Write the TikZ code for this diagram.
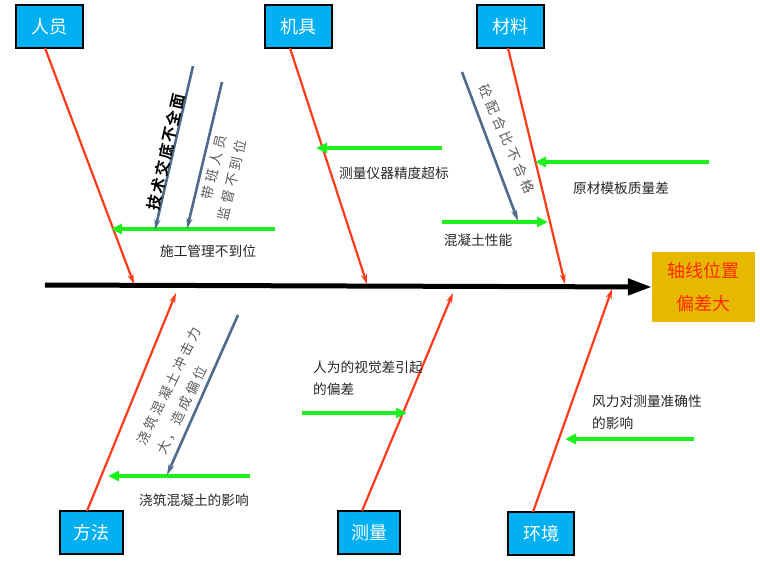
\documentclass[tikz,border=0pt]{standalone}
\usepackage{fontspec}
\newfontfamily\cjk{Noto Sans CJK SC}[BoldFont={Noto Sans CJK SC Bold}]
\usetikzlibrary{arrows.meta}
\definecolor{cyanbox}{HTML}{00B0F0}
\definecolor{bonered}{HTML}{FF3B1A}
\definecolor{causegreen}{HTML}{1EF01E}
\definecolor{subgray}{HTML}{4F6A8A}
\definecolor{goldbox}{HTML}{E6B800}
\definecolor{txtgray}{HTML}{5A5A5A}
\definecolor{efftxt}{HTML}{FF2A00}
\begin{document}
\begin{tikzpicture}[x=1pt,y=-1pt,
 catbox/.style={draw=black,line width=1.6pt,fill=cyanbox,minimum width=67pt,minimum height=43pt,inner sep=0pt,font=\cjk\fontsize{18}{20}\selectfont,text=white},
 bone/.style={draw=bonered,line width=2.2pt,-{Stealth[length=10pt,width=6pt]}},
 cause/.style={draw=causegreen,line width=4pt,-{Triangle[length=11pt,width=10pt]}},
 sub/.style={draw=subgray,line width=2.6pt,-{Stealth[length=11pt,width=6pt]}},
 lbl/.style={font=\cjk\fontsize{13.7}{22}\selectfont,text=black!85,inner sep=0pt,align=left},
 rlbl/.style={text=txtgray,inner sep=0pt},
]
\useasboundingbox (0,0) rectangle (760,570);
% category boxes
\node[catbox] (ry) at (49.5,26.5) {人员};
\node[catbox] (jj) at (298.5,26.5) {机具};
\node[catbox] (cl) at (510.5,26.5) {材料};
\node[catbox,minimum width=63pt] (ff) at (91.5,532.5) {方法};
\node[catbox,minimum width=62pt] (cm) at (369,532.5) {测量};
\node[catbox,minimum width=66pt] (hj) at (541,533.5) {环境};
% effect
\node[fill=goldbox,minimum width=103pt,minimum height=70pt,inner sep=0pt,align=center,
      font=\cjk\fontsize{18}{33}\selectfont,text=efftxt] (eff) at (703.5,287) {轴线位置\\偏差大};
% spine
\coordinate (sp0) at (45,285);
\draw[line width=5pt,-{Triangle[length=24pt,width=16pt]}] (sp0) -- (eff.west);
% bone coordinates
\coordinate (ryS) at (45,48);   \coordinate (ryE) at (134,284);
\coordinate (jjS) at (290,48);  \coordinate (jjE) at (367,284);
\coordinate (clS) at (508,48);  \coordinate (clE) at (565,284);
\coordinate (ffS) at (87,511);  \coordinate (ffE) at (176,293);
\coordinate (cmS) at (362,511); \coordinate (cmE) at (453,293);
\coordinate (hjS) at (533,512); \coordinate (hjE) at (612,289);
\draw[bone] (ryS) -- (ryE);
\draw[bone] (jjS) -- (jjE);
\draw[bone] (clS) -- (clE);
\draw[bone] (ffS) -- (ffE);
\draw[bone] (cmS) -- (cmE);
\draw[bone] (hjS) -- (hjE);
% green cause arrows
\coordinate (g1a) at (275,229); \coordinate (g1b) at (111,229);
\coordinate (g2a) at (442,148); \coordinate (g2b) at (316,148);
\coordinate (g3a) at (709,162); \coordinate (g3b) at (535,162);
\coordinate (g4a) at (442,222); \coordinate (g4b) at (548,222);
\coordinate (g5a) at (250,476); \coordinate (g5b) at (108,476);
\coordinate (g6a) at (302,413); \coordinate (g6b) at (407,413);
\coordinate (g7a) at (694,439); \coordinate (g7b) at (565,439);
\draw[cause] (g1a) -- (g1b);
\draw[cause] (g2a) -- (g2b);
\draw[cause] (g3a) -- (g3b);
\draw[cause] (g4a) -- (g4b);
\draw[cause] (g5a) -- (g5b);
\draw[cause] (g6a) -- (g6b);
\draw[cause] (g7a) -- (g7b);
% gray sub-cause arrows
\coordinate (s1a) at (193,66);  \coordinate (s1b) at (155,230);
\coordinate (s2a) at (222,82);  \coordinate (s2b) at (187,229);
\coordinate (s3a) at (462,72);  \coordinate (s3b) at (518,221);
\coordinate (s4a) at (238,315); \coordinate (s4b) at (167,475);
\draw[sub] (s1a) -- (s1b);
\draw[sub] (s2a) -- (s2b);
\draw[sub] (s3a) -- (s3b);
\draw[sub] (s4a) -- (s4b);
% labels
\node[lbl] (t1) at (208,251) {施工管理不到位};
\node[lbl] (t2) at (394,173) {测量仪器精度超标};
\node[lbl] (t3) at (621,188) {原材模板质量差};
\node[lbl] (t4) at (478,240) {混凝土性能};
\node[lbl] (t5) at (194,500) {浇筑混凝土的影响};
\node[lbl,anchor=west] (t6) at (313,378) {人为的视觉差引起\\的偏差};
\node[lbl,anchor=west] (t7) at (592,412) {风力对测量准确性\\的影响};
% rotated labels
\node[font=\cjk\bfseries\fontsize{15.5}{18}\selectfont\addfontfeatures{LetterSpace=12},text=black,inner sep=0pt,rotate=77] (r1) at (166,152) {技术交底不全面};
\node[rlbl,rotate=77,align=right,font=\cjk\fontsize{13.5}{20}\selectfont\addfontfeatures{LetterSpace=28}] (r2) at (222,178) {带班人员\\监督不到位};
\node[rlbl,rotate=-66,font=\cjk\fontsize{13.5}{16}\selectfont\addfontfeatures{LetterSpace=28}] (r3) at (507,139) {砼配合比不合格};
\node[rlbl,rotate=64,align=left,font=\cjk\fontsize{13.5}{22}\selectfont\addfontfeatures{LetterSpace=22}] (r4) at (179,391) {浇筑混凝土冲击力\\大，造成偏位};
\end{tikzpicture}
\end{document}
